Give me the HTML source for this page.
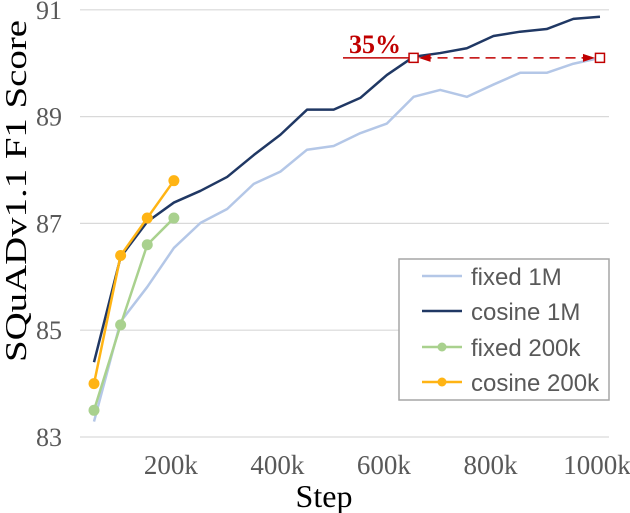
<!DOCTYPE html>
<html><head><meta charset="utf-8"><style>
html,body{margin:0;padding:0;background:#fff;}
svg{display:block;}
</style></head><body>
<svg id="chart" width="630" height="513" viewBox="0 0 630 513" xmlns="http://www.w3.org/2000/svg">
<g id="grid"></g>
<g id="yticks"></g>
<g id="xticks"></g>
<g id="series"></g>
<g id="annot"></g>
<text transform="translate(26,191) rotate(-90)" text-anchor="middle" font-family="Liberation Serif, serif" font-size="31" fill="#000" textLength="342" lengthAdjust="spacingAndGlyphs">SQuADv1.1 F1 Score</text>
<text x="324" y="507" text-anchor="middle" font-family="Liberation Serif, serif" font-size="32" fill="#000">Step</text>
<g>
<rect x="399" y="259" width="210" height="141" fill="#fff" stroke="#a6a6a6" stroke-width="1.5"/>
<g id="legend-entries"></g>
</g>
</svg>
<script>
const steps = [50,100,150,200,250,300,350,400,450,500,550,600,650,700,750,800,850,900,950,1000];
const fixed1M = [83.29,85.16,85.81,86.54,87.01,87.27,87.74,87.97,88.38,88.45,88.69,88.87,89.37,89.5,89.37,89.6,89.82,89.82,89.99,90.1];
const cosine1M = [84.4,86.37,87.03,87.39,87.61,87.87,88.28,88.66,89.13,89.13,89.35,89.78,90.12,90.19,90.28,90.51,90.59,90.64,90.83,90.87];
const steps200k = [50,100,150,200];
const fixed200k = [83.5,85.1,86.6,87.1];
const cosine200k = [84.0,86.4,87.1,87.8];
const yTicks = [83,85,87,89,91];
const xTicks = [200,400,600,800,1000];
const xTickLabels = ["200k","400k","600k","800k","1000k"];
const annotStart = 650, annotEnd = 1000, annotValue = 90.1, annotLabel = "35%";

const NS = "http://www.w3.org/2000/svg";
const x = s => 94 + (s - 50) * 0.5326;
const y = v => 437 - (v - 83) * 53.4;
function mk(tag, attrs, parent){ const e=document.createElementNS(NS,tag); for(const k in attrs) e.setAttribute(k,attrs[k]); parent.appendChild(e); return e; }

const grid=document.getElementById('grid'), yt=document.getElementById('yticks'), xt=document.getElementById('xticks');
yTicks.forEach(v=>{
  const l=mk('line',{x1:80,x2:609,y1:y(v),y2:y(v),stroke:'#d9d9d9','stroke-width':1.2},grid);
  
  
  const t=mk('text',{x:62,y:y(v)+9,'text-anchor':'end','font-family':'Liberation Serif, serif','font-size':26,fill:'#595959'},yt);
  t.textContent=v;
  
  
});
xTicks.forEach((s,i)=>{
  const t=mk('text',{x:x(s)-3,y:474,'text-anchor':'middle','font-family':'Liberation Serif, serif','font-size':27,fill:'#595959'},xt);
  t.textContent=xTickLabels[i];
  
  
});
const ser=document.getElementById('series');
function line(xs,vs,color,name,markers){
  const p=mk('polyline',{points:xs.map((s,i)=>x(s)+','+y(vs[i])).join(' '),fill:'none',stroke:color,'stroke-width':2.5,'stroke-linejoin':'round'},ser);
  
  
  if(markers) xs.forEach((s,i)=>{
    const c=mk('circle',{cx:x(s),cy:y(vs[i]),r:5.5,fill:color},ser);
    
    
  });
}
line(steps,fixed1M,'#b4c7e7','fixed-1m',false);
line(steps,cosine1M,'#203864','cosine-1m',false);
line(steps200k,fixed200k,'#a9d18e','fixed-200k',true);
line(steps200k,cosine200k,'#ffb414','cosine-200k',true);

const an=document.getElementById('annot');
const ay=y(annotValue), ax1=x(annotStart), ax2=x(annotEnd);
const ul=mk('line',{x1:343,x2:ax1,y1:ay,y2:ay,stroke:'#c00000','stroke-width':1.5},an);


const dl=mk('line',{x1:ax1+8,x2:ax2-8,y1:ay,y2:ay,stroke:'#c00000','stroke-width':1.5,'stroke-dasharray':'10,6'},an);


const h1=mk('polygon',{points:(ax1+5)+','+ay+' '+(ax1+17)+','+(ay-4)+' '+(ax1+17)+','+(ay+4),fill:'#c00000'},an);


const h2=mk('polygon',{points:(ax2-5)+','+ay+' '+(ax2-17)+','+(ay-4)+' '+(ax2-17)+','+(ay+4),fill:'#c00000'},an);


[ax1,ax2].forEach(px=>{
  const r=mk('rect',{x:px-4.5,y:ay-4.5,width:9,height:9,fill:'#fff',stroke:'#c00000','stroke-width':1.5},an);
  
  
});
const at=mk('text',{x:349,y:ay-5,'font-family':'Liberation Serif, serif','font-size':26,'font-weight':'bold',fill:'#c00000'},an);
at.textContent=annotLabel;



const leg=document.getElementById('legend-entries');
const legItems=[['fixed 1M','#b4c7e7',false],['cosine 1M','#203864',false],['fixed 200k','#a9d18e',true],['cosine 200k','#ffb414',true]];
const legY=[276,311,347,382];
legItems.forEach((it,i)=>{
  const g=mk('g',{},leg);
  
  
  mk('line',{x1:422,x2:462,y1:legY[i],y2:legY[i],stroke:it[1],'stroke-width':2.5},g);
  if(it[2]) mk('circle',{cx:442,cy:legY[i],r:4.5,fill:it[1]},g);
  const t=mk('text',{x:471,y:legY[i]+9,'font-family':'Liberation Sans, sans-serif','font-size':24,fill:'#595959'},g);
  t.textContent=it[0];
});
</script>
</body></html>
